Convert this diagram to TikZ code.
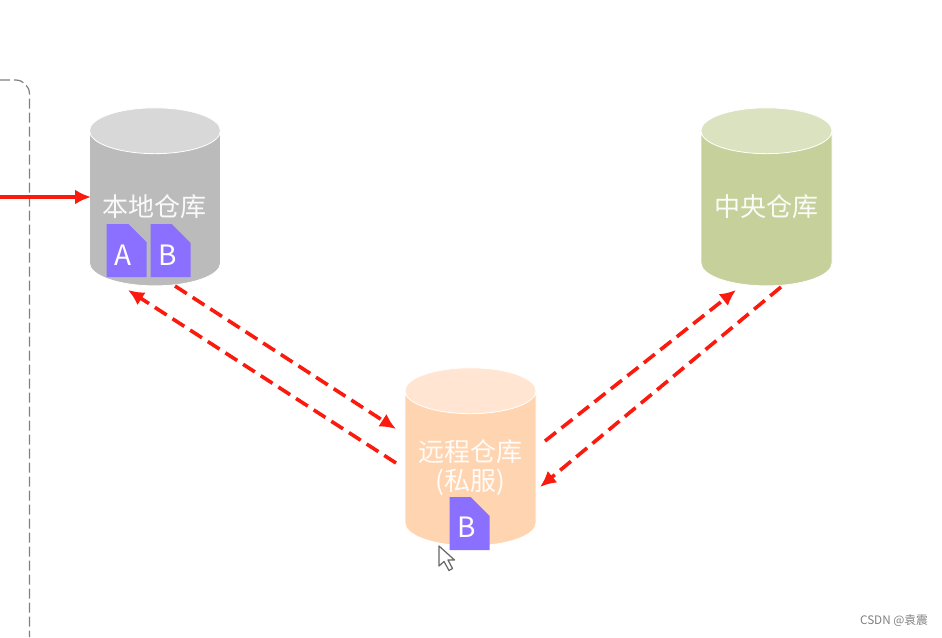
\documentclass[tikz,border=0pt]{standalone}
\usepackage{fontspec}
\usepackage{tikz}
\usetikzlibrary{shapes.geometric,shapes.misc,arrows.meta}
\setmainfont{Noto Sans CJK SC}
\definecolor{localbody}{HTML}{BBBBBB}
\definecolor{localend}{HTML}{D8D8D8}
\definecolor{remotebody}{HTML}{FFD4B0}
\definecolor{remoteend}{HTML}{FFE5D2}
\definecolor{centerbody}{HTML}{C6D09A}
\definecolor{centerend}{HTML}{DBE2C0}
\definecolor{filecolor}{HTML}{8B6FFF}
\definecolor{flowred}{HTML}{FB1A0E}
\tikzset{
  repo/.style={cylinder,shape border rotate=90,shape aspect=9.2,draw=white,line width=0.8pt,
    minimum width=131pt,minimum height=178pt,inner sep=0pt,cylinder uses custom fill},
  repotext/.style={text=white,font=\fontsize{26}{30}\selectfont,align=center,inner sep=0pt,opacity=0.92},
  filebox/.style={chamfered rectangle,chamfered rectangle corners=north east,
    chamfered rectangle xsep=12pt,chamfered rectangle ysep=11pt,fill=filecolor,
    minimum width=40pt,minimum height=53pt,inner sep=0pt,font=\fontsize{27}{30}\selectfont},
  fileletter/.style={text=white,inner sep=0pt,font=\fontsize{28}{30}\selectfont},
  solidflow/.style={->,flowred,line width=3.5pt},
  flow/.style={->,flowred,line width=3.6pt,dash pattern=on 14pt off 7pt},
}
\begin{document}
\begin{tikzpicture}[>={Latex[length=16pt,width=15pt]},x=1pt,y=-1pt]
   \useasboundingbox (0,0) rectangle (942,637);
   \fill[white] (0,0) rectangle (942,637);

   \draw [gray,line width=1.2pt,dash pattern=on 10pt off 4pt,rounded corners=14pt] (0,80) -- (29.5,80) -- (29.5,637);

   \node[repo,cylinder body fill=localbody,cylinder end fill=localend] (local) at (155,208.5) {\phantom{x}};
   \node[repo,cylinder body fill=remotebody,cylinder end fill=remoteend] (remote) at (470.5,468.5) {\phantom{x}};
   \node[repo,cylinder body fill=centerbody,cylinder end fill=centerend] (central) at (766.5,208.5) {\phantom{x}};

   \node[repotext] (localtext) at (154,207) {本地仓库};
   \node[repotext] (remotetext) at (470,467.5) {远程仓库\\[-1pt](私服)};
   \node[repotext] (centraltext) at (766,207) {中央仓库};

   \node[filebox] (filea) at (126.5,250.5) {\phantom{A}};
   \node[filebox] (fileb) at (170.5,250.5) {\phantom{B}};
   \node[filebox] (filec) at (469.5,523.5) {\phantom{B}};
   \node[fileletter] (lettera) at (123.5,255) {A};
   \node[fileletter] (letterb) at (168,255) {B};
   \node[fileletter] (letterc) at (467,527) {B};

   \coordinate (in) at (0,197);
   \coordinate (inend) at (91,197);
   \coordinate (a1) at (175,286);
   \coordinate (b1) at (396,429);
   \coordinate (b2) at (396,463);
   \coordinate (a2) at (128,290);
   \coordinate (b3) at (545,441);
   \coordinate (c1) at (736,290);
   \coordinate (c2) at (781,287);
   \coordinate (b4) at (540,487);

   \draw [solidflow] (in) -- (inend) ;
   \draw [flow] (a1) -- (b1) ;
   \draw [flow] (b2) -- (a2) ;
   \draw [flow] (b3) -- (c1) ;
   \draw [flow] (c2) -- (b4) ;

   \draw [gray!80!black,fill=white,line width=1.2pt,line join=round] (439,546) -- (439,566) -- (444,561.5) -- (449,570.5) -- (452.5,568.5) -- (448,560) -- (454.5,560) -- cycle;

   \node[text=gray,font=\fontsize{11.7}{13}\selectfont,anchor=east,inner sep=0pt] (mark) at (928,621) {CSDN @袁震};
\end{tikzpicture}
\end{document}
